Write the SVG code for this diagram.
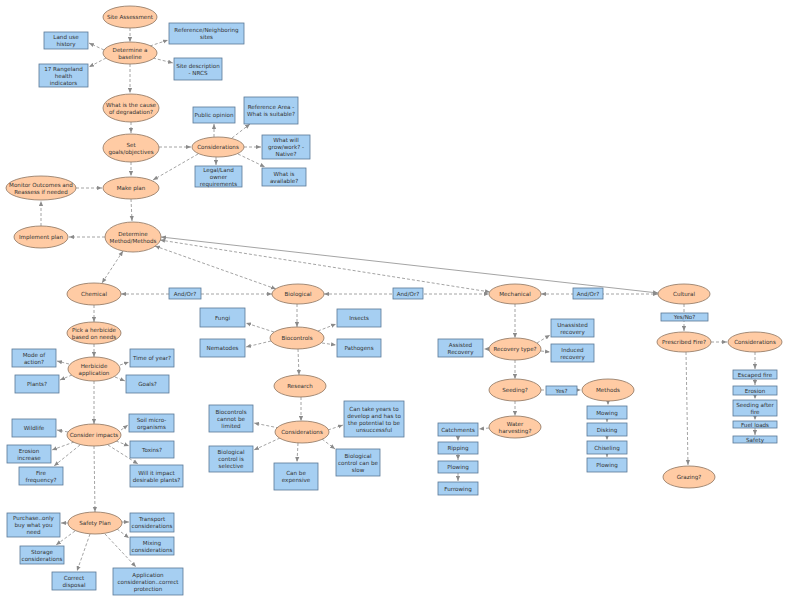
<svg xmlns="http://www.w3.org/2000/svg" width="788" height="600" viewBox="0 0 788 600">
<style>
.n ellipse{fill:#FFCBA4;stroke:#8C7460;stroke-width:0.8}
.n rect{fill:#A6CFF2;stroke:#5A7896;stroke-width:0.8}
text{font-family:"DejaVu Sans",sans-serif;font-size:5.6px;fill:#333;text-anchor:middle}
#edges line,#edges path{stroke:#9A9A9A;stroke-width:0.9;fill:none;stroke-dasharray:3 2;marker-end:url(#a)}
#edges .bi{marker-start:url(#a)}
#edges .solid{stroke-dasharray:none}
</style>
<defs>
<marker id="a" viewBox="0 0 6 6" refX="6" refY="3" markerWidth="5" markerHeight="5" markerUnits="userSpaceOnUse" orient="auto-start-reverse"><path d="M0,0.5 L6,3 L0,5.5 z" fill="#8A8A8A"/></marker>
</defs>
<rect width="788" height="600" fill="#fff"/>
<g id="edges">
<line x1="130" y1="28" x2="130" y2="42"/>
<line x1="104" y1="50" x2="89" y2="43"/>
<line x1="150" y1="46" x2="168" y2="40"/>
<line x1="106" y1="58" x2="89" y2="67"/>
<line x1="153" y1="58" x2="173" y2="63"/>
<line x1="130" y1="64" x2="130" y2="93"/>
<line x1="131" y1="122" x2="131" y2="133"/>
<line x1="131" y1="162" x2="131" y2="176"/>
<line x1="159" y1="147" x2="191" y2="147"/>
<line x1="214" y1="137" x2="214" y2="124"/>
<line x1="232" y1="138" x2="250" y2="124"/>
<line x1="244" y1="147" x2="261" y2="147"/>
<line x1="238" y1="154" x2="265" y2="167"/>
<line x1="216" y1="157" x2="216" y2="165"/>
<line x1="198" y1="154" x2="153" y2="180"/>
<line x1="76" y1="188" x2="102" y2="188"/>
<line x1="131" y1="199" x2="132" y2="221"/>
<line x1="105" y1="237" x2="69" y2="237"/>
<line x1="41" y1="226" x2="41" y2="201"/>
<line class="bi" x1="123" y1="251" x2="102" y2="283"/>
<line class="bi" x1="155" y1="246" x2="276" y2="289"/>
<line class="bi" x1="160" y1="240" x2="490" y2="292"/>
<line class="bi solid" x1="161" y1="237" x2="658" y2="293"/>
<line class="bi" x1="121" y1="294" x2="272" y2="294"/>
<line class="bi" x1="324" y1="294" x2="489" y2="294"/>
<line class="bi" x1="541" y1="294" x2="658" y2="294"/>
<line x1="94" y1="305" x2="94" y2="322"/>
<line x1="94" y1="344" x2="94" y2="357"/>
<line x1="69" y1="364" x2="57" y2="361"/>
<line x1="72" y1="375" x2="60" y2="380"/>
<line x1="120" y1="365" x2="129" y2="362"/>
<line x1="115" y1="377" x2="125" y2="381"/>
<line x1="94" y1="381" x2="94" y2="424"/>
<line x1="68" y1="432" x2="57" y2="430"/>
<line x1="121" y1="430" x2="128" y2="425"/>
<line x1="74" y1="442" x2="52" y2="450"/>
<line x1="116" y1="441" x2="129" y2="446"/>
<line x1="80" y1="445" x2="54" y2="466"/>
<line x1="108" y1="445" x2="138" y2="464"/>
<line x1="94" y1="446" x2="95" y2="512"/>
<line x1="68" y1="523" x2="61" y2="523"/>
<line x1="122" y1="522" x2="129" y2="522"/>
<line x1="75" y1="531" x2="56" y2="545"/>
<line x1="117" y1="529" x2="129" y2="538"/>
<line x1="90" y1="534" x2="77" y2="571"/>
<line x1="105" y1="534" x2="136" y2="567"/>
<line x1="297" y1="304" x2="297" y2="327"/>
<line x1="274" y1="332" x2="246" y2="323"/>
<line x1="271" y1="341" x2="246" y2="347"/>
<line x1="318" y1="331" x2="336" y2="324"/>
<line x1="322" y1="343" x2="336" y2="345"/>
<line x1="298" y1="349" x2="299" y2="375"/>
<line x1="301" y1="397" x2="301" y2="421"/>
<line x1="279" y1="428" x2="254" y2="423"/>
<line x1="280" y1="438" x2="254" y2="450"/>
<line x1="298" y1="443" x2="297" y2="462"/>
<line x1="322" y1="439" x2="335" y2="449"/>
<line x1="328" y1="430" x2="343" y2="425"/>
<line x1="515" y1="304" x2="515" y2="338"/>
<line x1="489" y1="349" x2="484" y2="349"/>
<line x1="537" y1="343" x2="550" y2="335"/>
<line x1="541" y1="351" x2="550" y2="352"/>
<line x1="515" y1="360" x2="515" y2="379"/>
<line x1="541" y1="390" x2="581" y2="390"/>
<line x1="515" y1="401" x2="515" y2="416"/>
<line x1="489" y1="428" x2="479" y2="429"/>
<line x1="458" y1="436" x2="458" y2="441"/>
<line x1="458" y1="454" x2="458" y2="460"/>
<line x1="458" y1="473" x2="458" y2="481"/>
<line x1="608" y1="401" x2="608" y2="405"/>
<line x1="607" y1="419" x2="607" y2="422"/>
<line x1="607" y1="436" x2="607" y2="440"/>
<line x1="607" y1="454" x2="607" y2="457"/>
<line x1="684" y1="304" x2="684" y2="331"/>
<line x1="711" y1="342" x2="727" y2="342"/>
<line x1="755" y1="352" x2="755" y2="369"/>
<line x1="755" y1="379" x2="755" y2="385"/>
<line x1="755" y1="395" x2="755" y2="399"/>
<line x1="755" y1="416" x2="755" y2="420"/>
<line x1="755" y1="428" x2="755" y2="435"/>
<line x1="686" y1="352" x2="688" y2="465"/>
</g>
<g id="sa" class="n"><ellipse cx="130" cy="17" rx="27" ry="11"/><text x="130" y="19">Site Assessment</text></g>
<g id="base" class="n"><ellipse cx="130" cy="53" rx="27" ry="11"/><text x="130" y="51.5">Determine a</text><text x="130" y="58.5">baseline</text></g>
<g id="cause" class="n"><ellipse cx="131" cy="108" rx="28" ry="14"/><text x="131" y="106.5">What is the cause</text><text x="131" y="113.5">of degradation?</text></g>
<g id="goals" class="n"><ellipse cx="131" cy="148" rx="28" ry="14"/><text x="131" y="146.5">Set</text><text x="131" y="153.5">goals/objectives</text></g>
<g id="plan" class="n"><ellipse cx="131" cy="188" rx="28" ry="11"/><text x="131" y="190">Make plan</text></g>
<g id="monitor" class="n"><ellipse cx="41" cy="188" rx="35" ry="12"/><text x="41" y="186.5">Monitor Outcomes and</text><text x="41" y="193.5">Reassess if needed</text></g>
<g id="cons1" class="n"><ellipse cx="218" cy="147" rx="26" ry="10"/><text x="218" y="149">Considerations</text></g>
<g id="method" class="n"><ellipse cx="133" cy="237" rx="28" ry="15"/><text x="133" y="235.5">Determine</text><text x="133" y="242.5">Method/Methods</text></g>
<g id="impl" class="n"><ellipse cx="41" cy="237" rx="27" ry="11"/><text x="41" y="239">Implement plan</text></g>
<g id="chem" class="n"><ellipse cx="94" cy="294" rx="27" ry="11"/><text x="94" y="296">Chemical</text></g>
<g id="bio" class="n"><ellipse cx="298" cy="294" rx="26" ry="10"/><text x="298" y="296">Biological</text></g>
<g id="mech" class="n"><ellipse cx="515" cy="294" rx="26" ry="10"/><text x="515" y="296">Mechanical</text></g>
<g id="cult" class="n"><ellipse cx="684" cy="294" rx="26" ry="10"/><text x="684" y="296">Cultural</text></g>
<g id="pick" class="n"><ellipse cx="94" cy="333" rx="27" ry="11"/><text x="94" y="331.5">Pick a herbicide</text><text x="94" y="338.5">based on needs</text></g>
<g id="herb" class="n"><ellipse cx="94" cy="369" rx="26" ry="12"/><text x="94" y="367.5">Herbicide</text><text x="94" y="374.5">application</text></g>
<g id="impacts" class="n"><ellipse cx="94" cy="435" rx="27" ry="11"/><text x="94" y="437">Consider impacts</text></g>
<g id="safety" class="n"><ellipse cx="95" cy="523" rx="27" ry="11"/><text x="95" y="525">Safety Plan</text></g>
<g id="biocon" class="n"><ellipse cx="297" cy="338" rx="27" ry="11"/><text x="297" y="340">Biocontrols</text></g>
<g id="research" class="n"><ellipse cx="300" cy="386" rx="26" ry="11"/><text x="300" y="388">Research</text></g>
<g id="cons2" class="n"><ellipse cx="302" cy="432" rx="27" ry="11"/><text x="302" y="434">Considerations</text></g>
<g id="recov" class="n"><ellipse cx="515" cy="349" rx="26" ry="11"/><text x="515" y="351">Recovery type?</text></g>
<g id="seed" class="n"><ellipse cx="515" cy="390" rx="26" ry="11"/><text x="515" y="392">Seeding?</text></g>
<g id="water" class="n"><ellipse cx="515" cy="427" rx="26" ry="11"/><text x="515" y="425.5">Water</text><text x="515" y="432.5">harvesting?</text></g>
<g id="methods" class="n"><ellipse cx="608" cy="390" rx="26" ry="11"/><text x="608" y="392">Methods</text></g>
<g id="fire" class="n"><ellipse cx="684" cy="342" rx="27" ry="10"/><text x="684" y="344">Prescribed Fire?</text></g>
<g id="cons3" class="n"><ellipse cx="755" cy="342" rx="27" ry="10"/><text x="755" y="344">Considerations</text></g>
<g id="graze" class="n"><ellipse cx="689" cy="477" rx="26" ry="11"/><text x="689" y="479">Grazing?</text></g>
<g id="landuse" class="n"><rect x="44" y="32" width="44" height="17"/><text x="66" y="39">Land use</text><text x="66" y="46">history</text></g>
<g id="refsites" class="n"><rect x="169" y="23" width="75" height="21"/><text x="206.5" y="32">Reference/Neighboring</text><text x="206.5" y="39">sites</text></g>
<g id="rangeland" class="n"><rect x="39" y="64" width="49" height="23"/><text x="63.5" y="70.5">17 Rangeland</text><text x="63.5" y="77.5">health</text><text x="63.5" y="84.5">indicators</text></g>
<g id="sitedesc" class="n"><rect x="174" y="58" width="48" height="22"/><text x="198" y="67.5">Site description</text><text x="198" y="74.5">- NRCS</text></g>
<g id="public" class="n"><rect x="193" y="107" width="42" height="16"/><text x="214" y="117">Public opinion</text></g>
<g id="refarea" class="n"><rect x="244" y="97" width="54" height="27"/><text x="271" y="109">Reference Area -</text><text x="271" y="116">What is suitable?</text></g>
<g id="grow" class="n"><rect x="262" y="135" width="48" height="24"/><text x="286" y="142">What will</text><text x="286" y="149">grow/work? -</text><text x="286" y="156">Native?</text></g>
<g id="avail" class="n"><rect x="262" y="168" width="44" height="18"/><text x="284" y="175.5">What is</text><text x="284" y="182.5">available?</text></g>
<g id="legal" class="n"><rect x="195" y="166" width="47" height="21"/><text x="218.5" y="171.5">Legal/Land</text><text x="218.5" y="178.5">owner</text><text x="218.5" y="185.5">requirements</text></g>
<g id="andor1" class="n"><rect x="169" y="288" width="32" height="11"/><text x="185" y="295.5">And/Or?</text></g>
<g id="andor2" class="n"><rect x="393" y="288" width="30" height="11"/><text x="408" y="295.5">And/Or?</text></g>
<g id="andor3" class="n"><rect x="573" y="288" width="30" height="11"/><text x="588" y="295.5">And/Or?</text></g>
<g id="fungi" class="n"><rect x="200" y="308" width="45" height="19"/><text x="222.5" y="319.5">Fungi</text></g>
<g id="nema" class="n"><rect x="200" y="339" width="45" height="18"/><text x="222.5" y="350">Nematodes</text></g>
<g id="insects" class="n"><rect x="337" y="309" width="44" height="18"/><text x="359" y="320">Insects</text></g>
<g id="patho" class="n"><rect x="337" y="339" width="44" height="18"/><text x="359" y="350">Pathogens</text></g>
<g id="mode" class="n"><rect x="12" y="349" width="44" height="18"/><text x="34" y="356.5">Mode of</text><text x="34" y="363.5">action?</text></g>
<g id="plants" class="n"><rect x="15" y="375" width="44" height="18"/><text x="37" y="386">Plants?</text></g>
<g id="time" class="n"><rect x="130" y="349" width="44" height="18"/><text x="152" y="360">Time of year?</text></g>
<g id="goalsq" class="n"><rect x="126" y="375" width="43" height="18"/><text x="147.5" y="386">Goals?</text></g>
<g id="wildlife" class="n"><rect x="12" y="419" width="44" height="18"/><text x="34" y="430">Wildlife</text></g>
<g id="soil" class="n"><rect x="129" y="414" width="45" height="18"/><text x="151.5" y="421.5">Soil micro-</text><text x="151.5" y="428.5">organisms</text></g>
<g id="erosion" class="n"><rect x="7" y="445" width="44" height="18"/><text x="29" y="452.5">Erosion</text><text x="29" y="459.5">increase</text></g>
<g id="toxins" class="n"><rect x="130" y="441" width="44" height="17"/><text x="152" y="451.5">Toxins?</text></g>
<g id="firefreq" class="n"><rect x="19" y="467" width="44" height="18"/><text x="41" y="474.5">Fire</text><text x="41" y="481.5">frequency?</text></g>
<g id="willit" class="n"><rect x="130" y="465" width="53" height="22"/><text x="156.5" y="474.5">Will it impact</text><text x="156.5" y="481.5">desirable plants?</text></g>
<g id="purchase" class="n"><rect x="7" y="513" width="53" height="24"/><text x="33.5" y="520">Purchase..only</text><text x="33.5" y="527">buy what you</text><text x="33.5" y="534">need</text></g>
<g id="transport" class="n"><rect x="130" y="513" width="44" height="19"/><text x="152" y="521">Transport</text><text x="152" y="528">considerations</text></g>
<g id="storage" class="n"><rect x="20" y="546" width="44" height="18"/><text x="42" y="553.5">Storage</text><text x="42" y="560.5">considerations</text></g>
<g id="mixing" class="n"><rect x="130" y="537" width="44" height="18"/><text x="152" y="544.5">Mixing</text><text x="152" y="551.5">considerations</text></g>
<g id="disposal" class="n"><rect x="52" y="572" width="44" height="18"/><text x="74" y="579.5">Correct</text><text x="74" y="586.5">disposal</text></g>
<g id="applic" class="n"><rect x="113" y="568" width="70" height="27"/><text x="148" y="576.5">Application</text><text x="148" y="583.5">consideration..correct</text><text x="148" y="590.5">protection</text></g>
<g id="bcl" class="n"><rect x="209" y="405" width="44" height="27"/><text x="231" y="413.5">Biocontrols</text><text x="231" y="420.5">cannot be</text><text x="231" y="427.5">limited</text></g>
<g id="bcs" class="n"><rect x="209" y="446" width="44" height="26"/><text x="231" y="454">Biological</text><text x="231" y="461">control is</text><text x="231" y="468">selective</text></g>
<g id="years" class="n"><rect x="344" y="401" width="60" height="36"/><text x="374" y="410.5">Can take years to</text><text x="374" y="417.5">develop and has to</text><text x="374" y="424.5">the potential to be</text><text x="374" y="431.5">unsuccessful</text></g>
<g id="slow" class="n"><rect x="336" y="449" width="44" height="27"/><text x="358" y="457.5">Biological</text><text x="358" y="464.5">control can be</text><text x="358" y="471.5">slow</text></g>
<g id="expensive" class="n"><rect x="274" y="463" width="44" height="27"/><text x="296" y="475">Can be</text><text x="296" y="482">expensive</text></g>
<g id="assisted" class="n"><rect x="438" y="339" width="45" height="18"/><text x="460.5" y="346.5">Assisted</text><text x="460.5" y="353.5">Recovery</text></g>
<g id="unassisted" class="n"><rect x="551" y="319" width="43" height="18"/><text x="572.5" y="326.5">Unassisted</text><text x="572.5" y="333.5">recovery</text></g>
<g id="induced" class="n"><rect x="551" y="344" width="43" height="18"/><text x="572.5" y="351.5">Induced</text><text x="572.5" y="358.5">recovery</text></g>
<g id="yes" class="n"><rect x="546" y="386" width="31" height="9"/><text x="561.5" y="392.5">Yes?</text></g>
<g id="catch" class="n"><rect x="438" y="423" width="40" height="13"/><text x="458" y="431.5">Catchments</text></g>
<g id="ripping" class="n"><rect x="438" y="442" width="40" height="12"/><text x="458" y="450">Ripping</text></g>
<g id="plow1" class="n"><rect x="438" y="461" width="40" height="12"/><text x="458" y="469">Plowing</text></g>
<g id="furrow" class="n"><rect x="438" y="482" width="40" height="13"/><text x="458" y="490.5">Furrowing</text></g>
<g id="mowing" class="n"><rect x="587" y="406" width="40" height="13"/><text x="607" y="414.5">Mowing</text></g>
<g id="disking" class="n"><rect x="587" y="423" width="40" height="13"/><text x="607" y="431.5">Disking</text></g>
<g id="chisel" class="n"><rect x="587" y="441" width="40" height="13"/><text x="607" y="449.5">Chiseling</text></g>
<g id="plow2" class="n"><rect x="587" y="458" width="40" height="14"/><text x="607" y="467">Plowing</text></g>
<g id="yesno" class="n"><rect x="661" y="313" width="47" height="8"/><text x="684.5" y="319">Yes/No?</text></g>
<g id="escaped" class="n"><rect x="733" y="370" width="44" height="9"/><text x="755" y="376.5">Escaped fire</text></g>
<g id="erosion2" class="n"><rect x="733" y="386" width="44" height="9"/><text x="755" y="392.5">Erosion</text></g>
<g id="seedafter" class="n"><rect x="733" y="400" width="44" height="16"/><text x="755" y="406.5">Seeding after</text><text x="755" y="413.5">fire</text></g>
<g id="fuel" class="n"><rect x="733" y="421" width="44" height="7"/><text x="755" y="426.5">Fuel loads</text></g>
<g id="safety2" class="n"><rect x="733" y="436" width="44" height="7"/><text x="755" y="441.5">Safety</text></g>
</svg>
